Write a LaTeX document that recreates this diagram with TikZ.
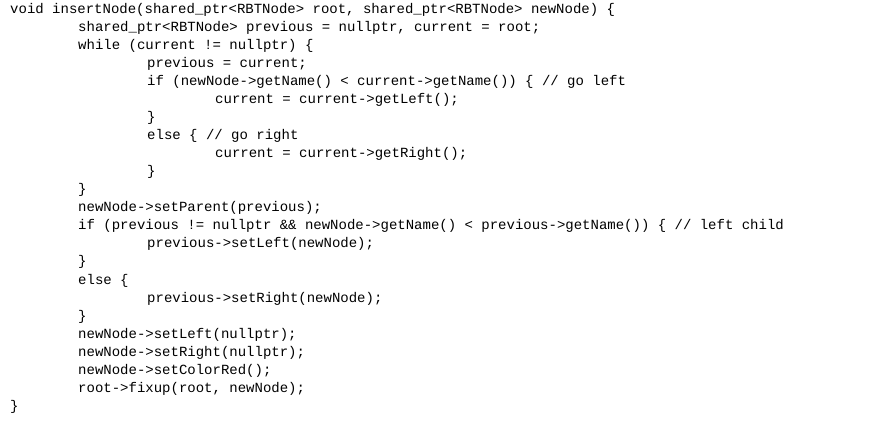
\documentclass[tikz,border=0pt]{standalone}
\usepackage{fontspec}
\setmonofont{Liberation Mono}
\begin{document}
\begin{tikzpicture}[x=1pt,y=1pt,
  code/.style={anchor=base west,inner sep=0pt,font=\ttfamily\fontsize{14}{18}\selectfont,text=black}]
\useasboundingbox[fill=white] (0,0) rectangle (893,-427);
\def\la{10}\def\lb{78}\def\lc{147}\def\ld{215}
\node[code] (l1) at (\la,-14) {void insertNode(shared\_ptr<RBTNode> root, shared\_ptr<RBTNode> newNode) \{};
\node[code] (l2) at (\lb,-32) {shared\_ptr<RBTNode> previous = nullptr, current = root;};
\node[code] (l3) at (\lb,-50) {while (current != nullptr) \{};
\node[code] (l4) at (\lc,-68) {previous = current;};
\node[code] (l5) at (\lc,-86) {if (newNode->getName() < current->getName()) \{ // go left};
\node[code] (l6) at (\ld,-104) {current = current->getLeft();};
\node[code] (l7) at (\lc,-122) {\}};
\node[code] (l8) at (\lc,-140) {else \{ // go right};
\node[code] (l9) at (\ld,-158) {current = current->getRight();};
\node[code] (l10) at (\lc,-176) {\}};
\node[code] (l11) at (\lb,-194) {\}};
\node[code] (l12) at (\lb,-212) {newNode->setParent(previous);};
\node[code] (l13) at (\lb,-230) {if (previous != nullptr \&\& newNode->getName() < previous->getName()) \{ // left child};
\node[code] (l14) at (\lc,-248) {previous->setLeft(newNode);};
\node[code] (l15) at (\lb,-266) {\}};
\node[code] (l16) at (\lb,-284) {else \{};
\node[code] (l17) at (\lc,-302) {previous->setRight(newNode);};
\node[code] (l18) at (\lb,-320) {\}};
\node[code] (l19) at (\lb,-338) {newNode->setLeft(nullptr);};
\node[code] (l20) at (\lb,-356) {newNode->setRight(nullptr);};
\node[code] (l21) at (\lb,-374) {newNode->setColorRed();};
\node[code] (l22) at (\lb,-392) {root->fixup(root, newNode);};
\node[code] (l23) at (\la,-410) {\}};
\end{tikzpicture}
\end{document}
